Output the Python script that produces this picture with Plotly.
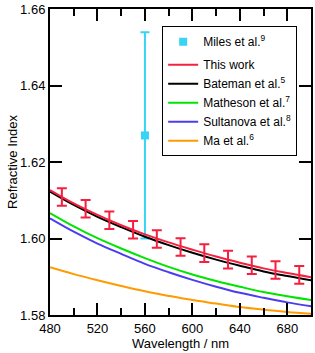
import plotly.graph_objects as go

# Wavelength grid for the dispersion curves (nm)
wavelength = [480, 500, 520, 540, 560, 580, 600, 620, 640, 660, 680, 700]

this_work = [1.6127, 1.6092, 1.6062, 1.6035, 1.6011, 1.5990, 1.5971, 1.5953, 1.5937, 1.5922, 1.5910, 1.5899]
bateman = [1.6123, 1.6088, 1.6057, 1.6030, 1.6005, 1.5983, 1.5963, 1.5945, 1.5929, 1.5914, 1.5902, 1.5891]
matheson = [1.6067, 1.6032, 1.6001, 1.5974, 1.5949, 1.5926, 1.5906, 1.5889, 1.5874, 1.5860, 1.5849, 1.5839]
sultanova = [1.6053, 1.6018, 1.5987, 1.5960, 1.5934, 1.5912, 1.5892, 1.5874, 1.5858, 1.5845, 1.5833, 1.5823]
ma = [1.5925, 1.5907, 1.5891, 1.5876, 1.5862, 1.5850, 1.5839, 1.5830, 1.5821, 1.5814, 1.5808, 1.5803]

# This work: measured points with uncertainty
err_wavelength = [490, 510, 530, 550, 570, 590, 610, 630, 650, 670, 690]
err_value = [1.6109, 1.6078, 1.6048, 1.6023, 1.5999, 1.5978, 1.5962, 1.5945, 1.5930, 1.5918, 1.5905]
err_size = [0.0023] * 11

# Miles et al.
miles_wavelength = [560]
miles_value = [1.627]
miles_err = [0.027]

# Tick labels
y_ticks = [1.58, 1.60, 1.62, 1.64, 1.66]
y_tick_text = ["1.58", "1.60", "1.62", "1.64", "1.66"]

FONT = "Arial, Liberation Sans, sans-serif"
RED = "#F5203F"
BLACK = "#000000"
GREEN = "#00E400"
BLUE = "#4B3CF0"
ORANGE = "#FF9A00"
CYAN = "#38D4F4"

fig = go.Figure()

fig.add_trace(go.Scatter(
    x=miles_wavelength, y=miles_value, mode="markers",
    name="Miles et al.<sup>9</sup>", legendgroup="a", legendrank=1,
    marker=dict(symbol="square", size=8, color=CYAN),
    error_y=dict(type="data", array=miles_err, color=CYAN, thickness=2, width=4.5),
))

fig.add_trace(go.Scatter(
    x=wavelength, y=bateman, mode="lines", name="Bateman et al.<sup>5</sup>",
    legendgroup="b", legendrank=3,
    line=dict(color=BLACK, width=2, shape="spline"),
))
fig.add_trace(go.Scatter(
    x=wavelength, y=matheson, mode="lines", name="Matheson et al.<sup>7</sup>",
    legendgroup="b", legendrank=4,
    line=dict(color=GREEN, width=2, shape="spline"),
))
fig.add_trace(go.Scatter(
    x=wavelength, y=sultanova, mode="lines", name="Sultanova et al.<sup>8</sup>",
    legendgroup="b", legendrank=5,
    line=dict(color=BLUE, width=2, shape="spline"),
))
fig.add_trace(go.Scatter(
    x=wavelength, y=ma, mode="lines", name="Ma et al.<sup>6</sup>",
    legendgroup="b", legendrank=6,
    line=dict(color=ORANGE, width=2, shape="spline"),
))
fig.add_trace(go.Scatter(
    x=wavelength, y=this_work, mode="lines", name="This work",
    legendgroup="b", legendrank=2,
    line=dict(color=RED, width=2, shape="spline"),
))
fig.add_trace(go.Scatter(
    x=err_wavelength, y=err_value, mode="markers", showlegend=False,
    legendgroup="b", legendrank=7,
    marker=dict(size=1, color="rgba(0,0,0,0)"),
    error_y=dict(type="data", array=err_size, color=RED, thickness=2, width=5),
))

axis_common = dict(
    showline=True, linecolor="black", linewidth=2, mirror="ticks",
    ticks="inside", ticklen=12, tickwidth=2, tickcolor="black",
    showgrid=False, zeroline=False,
    tickfont=dict(family=FONT, size=13, color="black"),
)

fig.update_xaxes(
    range=[480, 699.9], dtick=40, tick0=480,
    minor=dict(dtick=20, ticks="inside", ticklen=7, tickwidth=2, tickcolor="black", showgrid=False),
    title=dict(text="Wavelength / nm", font=dict(family=FONT, size=13, color="black"), standoff=2),
    **axis_common,
)
fig.update_yaxes(
    range=[1.58, 1.6601], tickmode="array", tickvals=y_ticks, ticktext=y_tick_text,
    ticklabeloverflow="allow",
    title=dict(text="Refractive Index", font=dict(family=FONT, size=13, color="black"), standoff=0),
    **axis_common,
)

fig.update_layout(
    width=315, height=353,
    margin=dict(l=50, r=2, t=7, b=38),
    paper_bgcolor="white", plot_bgcolor="white",
    font=dict(family=FONT, size=12, color="black"),
    legend=dict(
        x=0.947, y=0.944, xanchor="right", yanchor="top",
        bgcolor="white", bordercolor="black", borderwidth=1,
        font=dict(family=FONT, size=12, color="black"),
        tracegroupgap=4, itemwidth=30, traceorder="grouped",
    ),
    showlegend=True,
)

fig.write_html(
    "out.html",
    config={"displayModeBar": False},
    post_script="document.body.style.margin='0';",
)
